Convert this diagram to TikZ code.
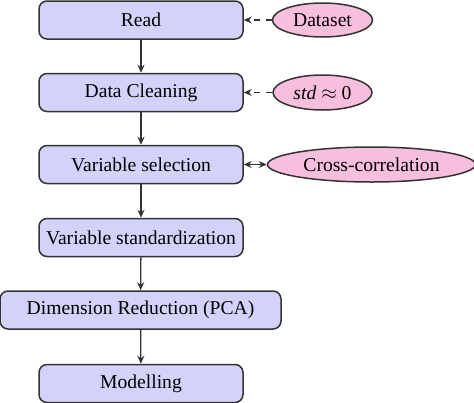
\documentclass[tikz,border=0pt]{standalone}
\usepackage{fontspec}
\setmainfont{Liberation Serif}
\usetikzlibrary{shapes.geometric,arrows.meta}
\definecolor{boxblue}{RGB}{210,210,250}
\definecolor{ellpink}{RGB}{248,190,222}

\begin{document}
\begin{tikzpicture}[x=0.5pt, y=-0.5pt, >={Stealth[length=4pt,width=3.5pt]},
    step box/.style={draw=black!80, fill=boxblue, rounded corners=4pt, line width=0.75pt,
                     minimum width=102pt, minimum height=19pt, font=\fontsize{9.8}{11}\selectfont},
    input/.style={ellipse, draw=black!80, fill=ellpink, line width=0.75pt, inner sep=1pt,
                  minimum height=17.5pt, font=\fontsize{9.8}{11}\selectfont},
    flow/.style={->, line width=0.65pt, black!80}]
    \useasboundingbox (0,0) rectangle (474,402);

    % processing steps
    \node[step box] (read)     at (141,20)    {Read};
    \node[step box] (clean)    at (141,92.5)  {Data Cleaning};
    \node[step box] (select)   at (141,164.5) {Variable selection};
    \node[step box] (standard) at (141,237.5) {Variable standardization};
    \node[step box, minimum width=140.5pt] (pca) at (140.5,310) {Dimension Reduction (PCA)};
    \node[step box] (model)    at (141,383.5) {Modelling};

    % inputs
    \node[input, minimum width=50pt, minimum height=17pt] (data) at (322.5,20) {Dataset};
    \node[input, minimum width=49.5pt] (std) at (322.5,92.5) {\textit{std} $\approx$ 0};
    \node[input, minimum width=104pt] (corr) at (371.5,164.5) {Cross-correlation};

    % flow
    \draw[flow] (read) -- (clean);
    \draw[flow] (clean) -- (select);
    \draw[flow] (select) -- (standard);
    \draw[flow] (standard) -- (pca);
    \draw[flow] (pca) -- (model);

    \draw[flow, dashed] (data) -- (read);
    \draw[flow, dashed] (std) -- (clean);
    \draw[flow, <->] (select) -- (corr);
\end{tikzpicture}
\end{document}
